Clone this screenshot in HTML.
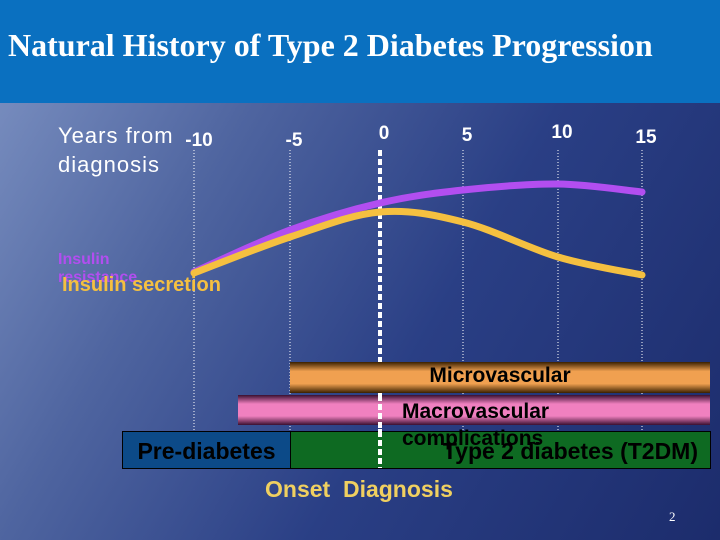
<!DOCTYPE html>
<html><head><meta charset="utf-8"><style>
body{margin:0;width:720px;height:540px;overflow:hidden;font-family:"Liberation Sans",sans-serif}
#root{position:relative;width:720px;height:540px;background:linear-gradient(120deg,#7f94c4 0%,#4f65a0 30%,#2a3f85 60%,#1c2c6c 100%)}
.t{position:absolute;white-space:nowrap}
</style></head><body>
<div id="root">
<div class="t" style="left:0;top:0;width:720px;height:103px;background:#0a70c0"></div>
<div class="t" style="left:8px;top:27px;font:bold 32px 'Liberation Serif',serif;color:#fff">Natural History of Type 2 Diabetes Progression</div>
<svg id="chart" width="720" height="540" style="position:absolute;left:0;top:0"></svg>
</div>
<script>
const years=[-10,-5,0,5,10,15];
const tickLabels=["-10","-5","0","5","10","15"];
const resistance=[28,70,97,110,116,108];
const secretion=[27,63,88,78,43,25];
const xPos={"-10":194,"-5":290,"0":380,"5":463,"10":558,"15":642};
const labelDy={"-10":146,"-5":146,"0":139,"5":141,"10":138,"15":143};
function x(v){const i=years.indexOf(v);if(i>=0)return xPos[String(v)];return 194+(v+10)/25*448;}
function y(v){return 300-v;}
const ns="http://www.w3.org/2000/svg",svg=document.getElementById('chart');
function el(t,a,p){const e=document.createElementNS(ns,t);for(const k in a)e.setAttribute(k,a[k]);(p||svg).appendChild(e);return e;}
years.forEach((yr,i)=>{
 const g=el('line',{x1:x(yr),x2:x(yr),y1:150,y2:yr===0?468:430,stroke:'#fff','stroke-width':yr===0?4:1,'stroke-dasharray':yr===0?'6,3':'1,2'});
 
 
 const t=el('text',{x:x(yr)+(i===0?5:4),y:labelDy[tickLabels[i]],'text-anchor':'middle',fill:'#fff','font-size':19,'font-weight':'bold','font-family':'Liberation Sans'});
 t.textContent=tickLabels[i];
 
 
});
function curve(vals,color,name){
 const pts=years.map((yr,i)=>[x(yr),y(vals[i])]);
 let d='M'+pts[0];
 for(let i=0;i<pts.length-1;i++){const p0=pts[i-1]||pts[i],p1=pts[i],p2=pts[i+1],p3=pts[i+2]||p2;
  d+=' C'+(p1[0]+(p2[0]-p0[0])/6)+','+(p1[1]+(p2[1]-p0[1])/6)+' '+(p2[0]-(p3[0]-p1[0])/6)+','+(p2[1]-(p3[1]-p1[1])/6)+' '+p2[0]+','+p2[1];}
 const p=el('path',{d:d,fill:'none',stroke:color,'stroke-width':7,'stroke-linecap':'round'});
 
 
}
curve(resistance,'#b24ef0','insulin-resistance-line');
curve(secretion,'#f5c040','insulin-secretion-line');
</script>
<div class="t" style="left:58px;top:121px;font-size:22px;letter-spacing:1px;color:#fff;line-height:29px">Years from<br>diagnosis</div>
<div class="t" style="left:58px;top:251px;font:bold 16px 'Liberation Sans',sans-serif;color:#b24ef0;line-height:18px">Insulin<br>resistance</div>
<div class="t" style="left:62px;top:274px;font-size:20px;font-weight:bold;color:#f5c040">Insulin secretion</div>
<div class="t" style="left:290px;top:362px;width:420px;height:31px;background:linear-gradient(#3a2000,#f0a050 30%,#f0a050 70%,#3a2000);text-align:center;font:bold 21px 'Liberation Sans',sans-serif;color:#000;line-height:28px;overflow:hidden">Microvascular<br>complications</div>
<div class="t" style="left:238px;top:395px;width:472px;height:30px;background:linear-gradient(#3a1030,#f080c0 30%,#f080c0 70%,#3a1030);"></div>
<div class="t" style="left:122px;top:431px;width:167px;height:36px;background:#0c4a88;border:1px solid #000;font:bold 23px 'Liberation Sans',sans-serif;line-height:38px;text-align:center;color:#000">Pre-diabetes</div>
<div class="t" style="left:290px;top:431px;width:419px;height:36px;background:#0e6a22;border:1px solid #000;font:bold 23px 'Liberation Sans',sans-serif;line-height:38px;text-align:right;color:#000"><span style="padding-right:12px">Type 2 diabetes (T2DM)</span></div>
<svg width="720" height="540" style="position:absolute;left:0;top:0;pointer-events:none"><line x1="380" x2="380" y1="395" y2="468" stroke="#fff" stroke-width="4" stroke-dasharray="6,3"/></svg>
<div class="t" style="left:402px;top:398px;font:bold 21px 'Liberation Sans',sans-serif;color:#000;line-height:27px">Macrovascular<br>complications</div>
<div class="t" style="left:265px;top:476px;font:bold 23px 'Liberation Sans',sans-serif;color:#f0d060">Onset&nbsp; Diagnosis</div>
<div class="t" style="left:669px;top:509px;font:13px 'Liberation Serif',serif;color:#fff">2</div>
</body></html>
